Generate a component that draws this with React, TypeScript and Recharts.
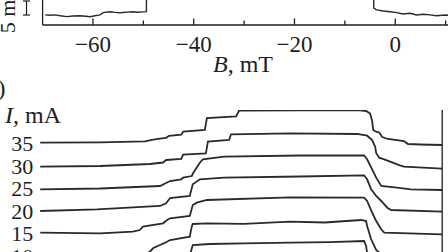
import React from 'react';
import { LineChart, Line, XAxis, YAxis } from 'recharts';

type P = { b: number; v: number };

// Top panel (signal, mV) vs B (mT)
const topTrace: P[] = [
  { b: -69.5, v: 3.6 }, { b: -68.5, v: 3.5 }, { b: -67.5, v: 3.6 }, { b: -66.5, v: 3.3 },
  { b: -65.2, v: 3.0 }, { b: -64.0, v: 3.2 }, { b: -62.6, v: 3.3 }, { b: -61.4, v: 3.1 },
  { b: -60.6, v: 2.95 }, { b: -59.6, v: 3.3 }, { b: -58.6, v: 3.6 }, { b: -58.0, v: 4.4 },
  { b: -56.6, v: 4.75 }, { b: -55.6, v: 4.5 }, { b: -54.6, v: 4.4 }, { b: -53.2, v: 4.6 },
  { b: -52.0, v: 4.75 }, { b: -51.2, v: 4.55 }, { b: -50.0, v: 4.7 }, { b: -49.4, v: 4.75 },
  { b: -49.3, v: 25 }, { b: -4.4, v: 25 }, { b: -4.25, v: 6.0 }, { b: -3.7, v: 5.4 },
  { b: -2.4, v: 5.0 }, { b: -1.05, v: 4.75 }, { b: 0.3, v: 4.4 }, { b: 1.5, v: 3.95 },
  { b: 2.9, v: 4.2 }, { b: 4.25, v: 3.6 }, { b: 5.5, v: 3.85 }, { b: 6.9, v: 3.6 },
  { b: 8.2, v: 3.3 }, { b: 9.9, v: 3.55 }, { b: 10.5, v: 3.5 },
];
const topTicks = [-60, -50, -40, -30, -20, -10, 0, 10];
const topTickLabels: Record<number, string> = { [-60]: '−60', [-40]: '−40', [-20]: '−20', 0: '0' };

// Bottom panel: traces for each current I (mA), offset curves
const trace35: P[] = [
  { b: -70.5, v: 35.13 }, { b: -58.6, v: 35.22 }, { b: -49.7, v: 35.44 }, { b: -48.3, v: 35.78 },
  { b: -47.1, v: 35.96 }, { b: -45.5, v: 36.22 }, { b: -44.9, v: 36.67 }, { b: -42.5, v: 36.93 },
  { b: -42.1, v: 37.62 }, { b: -37.8, v: 38.0 }, { b: -37.4, v: 40.62 }, { b: -31.6, v: 40.96 },
  { b: -31.0, v: 42.29 }, { b: -18.9, v: 42.33 }, { b: -7.0, v: 42.3 }, { b: -5.8, v: 42.18 },
  { b: -5.0, v: 41.62 }, { b: -4.6, v: 39.96 }, { b: -4.4, v: 37.96 }, { b: -3.8, v: 37.58 },
  { b: -3.2, v: 37.4 }, { b: -2.6, v: 36.4 }, { b: -1.45, v: 35.96 }, { b: 1.7, v: 35.51 },
  { b: 2.5, v: 34.84 }, { b: 4.9, v: 34.73 }, { b: 9.3, v: 34.62 },
];
const trace30: P[] = [
  { b: -70.5, v: 29.8 }, { b: -58.6, v: 29.96 }, { b: -48.7, v: 30.4 }, { b: -46.1, v: 30.73 },
  { b: -45.5, v: 31.29 }, { b: -42.5, v: 31.56 }, { b: -42.1, v: 32.51 }, { b: -37.6, v: 32.78 },
  { b: -37.2, v: 35.4 }, { b: -33.0, v: 35.73 }, { b: -32.6, v: 37.0 }, { b: -20.9, v: 37.22 },
  { b: -7.6, v: 37.07 }, { b: -5.6, v: 36.69 }, { b: -4.6, v: 35.73 }, { b: -4.0, v: 34.24 },
  { b: -3.8, v: 32.84 }, { b: -3.2, v: 31.8 }, { b: -2.2, v: 31.44 }, { b: 0.9, v: 30.11 },
  { b: 1.7, v: 29.8 }, { b: 9.3, v: 29.36 },
];
const trace25: P[] = [
  { b: -70.5, v: 24.78 }, { b: -58.6, v: 24.96 }, { b: -46.7, v: 25.51 }, { b: -45.5, v: 26.18 },
  { b: -44.7, v: 26.62 }, { b: -42.5, v: 27.0 }, { b: -42.1, v: 27.36 }, { b: -40.4, v: 27.73 },
  { b: -40.0, v: 28.62 }, { b: -38.8, v: 30.69 }, { b: -38.2, v: 31.44 }, { b: -34.0, v: 32.02 },
  { b: -18.9, v: 32.29 }, { b: -6.2, v: 32.33 }, { b: -5.6, v: 31.44 }, { b: -4.6, v: 29.22 },
  { b: -3.8, v: 27.36 }, { b: -2.8, v: 25.51 }, { b: 0.3, v: 25.13 }, { b: 3.1, v: 24.78 },
  { b: 9.3, v: 24.62 },
];
const trace20: P[] = [
  { b: -70.5, v: 19.96 }, { b: -59.2, v: 20.33 }, { b: -46.7, v: 21.07 }, { b: -45.5, v: 21.67 },
  { b: -44.7, v: 22.84 }, { b: -40.8, v: 23.29 }, { b: -40.2, v: 25.89 }, { b: -38.8, v: 27.0 },
  { b: -34.0, v: 27.36 }, { b: -18.9, v: 27.62 }, { b: -6.2, v: 27.89 }, { b: -5.6, v: 27.0 },
  { b: -4.8, v: 24.78 }, { b: -3.8, v: 23.29 }, { b: -2.8, v: 22.18 }, { b: -1.6, v: 20.69 },
  { b: -0.85, v: 20.18 }, { b: 9.3, v: 19.8 },
];
const trace15: P[] = [
  { b: -70.5, v: 15.13 }, { b: -58.6, v: 15.0 }, { b: -52.1, v: 15.36 }, { b: -50.7, v: 15.73 },
  { b: -50.1, v: 16.47 }, { b: -46.1, v: 17.22 }, { b: -45.3, v: 17.96 }, { b: -44.7, v: 18.33 },
  { b: -40.8, v: 18.84 }, { b: -40.2, v: 21.29 }, { b: -39.4, v: 21.8 }, { b: -37.4, v: 22.4 },
  { b: -20.9, v: 23.0 }, { b: -6.2, v: 22.91 }, { b: -5.6, v: 22.18 }, { b: -4.6, v: 19.58 },
  { b: -3.8, v: 17.73 }, { b: -2.8, v: 15.89 }, { b: -2.2, v: 15.13 }, { b: 9.3, v: 14.78 },
];
const trace10: P[] = [
  { b: -70.5, v: 10.0 }, { b: -52.7, v: 10.07 }, { b: -49.7, v: 10.4 }, { b: -48.7, v: 10.91 },
  { b: -48.1, v: 11.67 }, { b: -45.3, v: 13.13 }, { b: -44.7, v: 13.51 }, { b: -40.8, v: 14.24 },
  { b: -40.4, v: 16.47 }, { b: -40.2, v: 17.07 }, { b: -37.4, v: 17.22 }, { b: -30.0, v: 17.1 },
  { b: -20.9, v: 17.58 }, { b: -14.0, v: 17.4 }, { b: -6.8, v: 17.96 }, { b: -5.8, v: 17.73 },
  { b: -5.6, v: 16.62 }, { b: -4.8, v: 13.67 }, { b: -3.8, v: 11.29 }, { b: -2.6, v: 10.18 },
  { b: 9.3, v: 9.73 },
];
const trace5: P[] = [
  { b: -70.5, v: 5.07 }, { b: -48.7, v: 5.51 }, { b: -43.7, v: 7.96 }, { b: -40.8, v: 9.51 },
  { b: -40.6, v: 10.84 }, { b: -40.2, v: 12.4 }, { b: -36.8, v: 12.62 }, { b: -30.0, v: 12.75 },
  { b: -20.9, v: 12.91 }, { b: -13.0, v: 13.05 }, { b: -6.2, v: 13.29 }, { b: -5.8, v: 12.18 },
  { b: -5.4, v: 9.07 }, { b: -4.0, v: 5.73 }, { b: 9.3, v: 5.07 },
];
const bottomTraces = [trace35, trace30, trace25, trace20, trace15, trace10, trace5];
const currentTicks = [10, 15, 20, 25, 30, 35];
const rightTicks = [12.4, 17.4, 22.4, 27.4, 32.4, 37.4, 42.4];

const FONT = "'Liberation Serif', 'DejaVu Serif', serif";
const INK = '#1e1e1e';

const TopTick = (props: any) => {
  const { x, y, payload } = props;
  const val = payload.value as number;
  const label = topTickLabels[val];
  const major = label !== undefined;
  return (
    <g>
      <line x1={x} x2={x} y1={y} y2={y - (major ? 6.5 : 4.5)} stroke={INK} strokeWidth={1.3} />
      {major && (
        <text x={x} y={y + 26.7} textAnchor="middle" fontSize={23} fontFamily={FONT} fill={INK}>
          {label}
        </text>
      )}
    </g>
  );
};

export default function App() {
  return (
    <div style={{ position: 'fixed', left: 0, top: 0, width: 448, height: 252, overflow: 'hidden', background: '#fff' }}>
      <div style={{ position: 'absolute', left: 0, top: 25 - 84 }}>
        <LineChart width={455.7} height={124} data={topTrace} margin={{ top: 0, right: 0, bottom: 0, left: 0 }}>
          <XAxis
            type="number"
            dataKey="b"
            domain={[-70, 12]}
            ticks={topTicks}
            interval={0}
            tickSize={0}
            tickMargin={0}
            tickLine={false}
            tick={<TopTick />}
            height={40}
            stroke={INK}
            strokeWidth={1.3}
            allowDataOverflow
          />
          <YAxis type="number" domain={[0, 30]} width={42.6} tick={false} tickLine={false} stroke={INK} strokeWidth={1.3} allowDataOverflow />
          <Line type="linear" dataKey="v" stroke="#2a2a2a" strokeWidth={1.4} dot={false} isAnimationActive={false} />
        </LineChart>
      </div>
      <div style={{ position: 'absolute', left: 0, top: 110 }}>
        <LineChart width={452.2} height={168.3} margin={{ top: 0, right: 0, bottom: 0, left: 0 }}>
          <XAxis type="number" dataKey="b" domain={[-70.5, 9.3]} hide allowDataOverflow />
          <YAxis
            yAxisId="l"
            type="number"
            domain={[5, 42.4]}
            ticks={currentTicks}
            interval={0}
            width={40.1}
            axisLine={false}
            tickLine={false}
            tickSize={0}
            tickMargin={6.8}
            tick={{ fontSize: 22, fill: INK, fontFamily: FONT }}
            allowDataOverflow
          />
          <YAxis
            yAxisId="r"
            orientation="right"
            type="number"
            domain={[5, 42.4]}
            ticks={rightTicks}
            interval={0}
            width={10}
            tick={false}
            tickSize={5.5}
            stroke={INK}
            strokeWidth={1.3}
            allowDataOverflow
          />
          {bottomTraces.map((d, i) => (
            <Line
              key={i}
              yAxisId="l"
              data={d}
              type="linear"
              dataKey="v"
              stroke="#2a2a2a"
              strokeWidth={1.8}
              dot={false}
              isAnimationActive={false}
            />
          ))}
        </LineChart>
      </div>
      <svg width={448} height={252} style={{ position: 'absolute', left: 0, top: 0, pointerEvents: 'none' }}>
        <text x={15.3} y={33.3} transform="rotate(-90 15.3 33.3)" fontSize={22} fontFamily={FONT} fill={INK}>
          5 mV
        </text>
        <line x1={26.5} x2={26.5} y1={1} y2={15} stroke={INK} strokeWidth={1.2} />
        <line x1={23} x2={30} y1={1} y2={1} stroke={INK} strokeWidth={1.2} />
        <line x1={23} x2={30} y1={15} y2={15} stroke={INK} strokeWidth={1.2} />
        <text x={213} y={71.7} fontSize={24} fontFamily={FONT} fill={INK}>
          <tspan fontStyle="italic">B</tspan>, mT
        </text>
        <text x={5.5} y={96} textAnchor="end" fontSize={24} fontFamily={FONT} fill={INK}>
          (b)
        </text>
        <text x={5} y={122.7} fontSize={24} fontFamily={FONT} fill={INK}>
          <tspan fontStyle="italic">I</tspan>, mA
        </text>
      </svg>
    </div>
  );
}
